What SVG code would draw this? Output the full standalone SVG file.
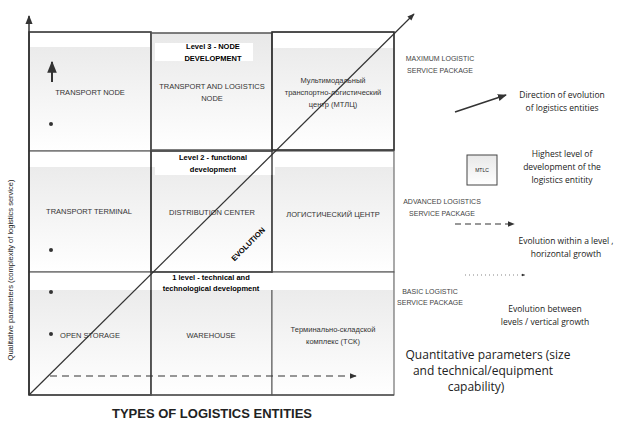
<svg xmlns="http://www.w3.org/2000/svg" width="619" height="428" viewBox="0 0 619 428">
<style>
text{font-family:"Liberation Sans",Arial,sans-serif;fill:#222}
.c{font-size:7.5px;text-anchor:middle;fill:#333}
.b{font-size:7.5px;text-anchor:middle;font-weight:bold;fill:#000}
.s{font-size:7px;text-anchor:middle;fill:#444}
.l{font-family:"Open Sans","Liberation Sans",sans-serif;font-size:8.5px;text-anchor:middle;fill:#222}
.q{font-family:"Open Sans","Liberation Sans",sans-serif;font-size:12px;fill:#222;text-anchor:middle}
.cell{fill:url(#g);stroke:#555;stroke-width:1}
</style>
<defs>
<linearGradient id="g" x1="0" y1="0" x2="0" y2="1"><stop offset="0" stop-color="#e8e8e8"/><stop offset="1" stop-color="#ffffff"/></linearGradient>
<marker id="a" viewBox="0 0 10 10" refX="9" refY="5" markerWidth="6" markerHeight="6" orient="auto"><path d="M0,1 L10,5 L0,9 Z" fill="#333"/></marker>
</defs>
<g id="grid">
<rect class="cell" x="29" y="32" width="122" height="119"/>
<rect class="cell" x="29" y="151" width="122" height="121"/>
<rect class="cell" x="29" y="272" width="122" height="123"/>
<rect class="cell" x="151" y="33" width="121" height="117"/>
<rect class="cell" x="151" y="151" width="121" height="121"/>
<rect class="cell" x="151" y="272" width="121" height="123"/>
<rect class="cell" x="272" y="32" width="122" height="118"/>
<rect class="cell" x="272" y="151" width="122" height="121"/>
<rect class="cell" x="272" y="272" width="122" height="123"/>
<rect x="30" y="33" width="120" height="14" fill="#fff"/>
<rect x="273" y="33" width="120" height="15" fill="#fff"/>
<rect x="155" y="43" width="98" height="18" fill="#fff"/>
<rect x="29" y="152" width="364" height="15" fill="#fff"/>
<rect x="155" y="167" width="120" height="8" fill="#fff"/>
<rect x="29" y="273" width="364" height="17" fill="#fff"/>
<rect x="29" y="32" width="122" height="363" fill="none" stroke="#444" stroke-width="1.5"/>
<rect x="151" y="151" width="121" height="121" fill="none" stroke="#444" stroke-width="1.5"/>
<rect x="151" y="33" width="121" height="117" fill="none" stroke="#555" stroke-width="1"/>
<rect x="272" y="32" width="122" height="118" fill="none" stroke="#333" stroke-width="1.5"/>
<line x1="29" y1="395" x2="394" y2="395" stroke="#555" stroke-width="1.5"/>
</g>
<g id="connectors" stroke="#333" fill="none">
<line x1="29" y1="395" x2="29" y2="16" stroke-width="1.5" marker-end="url(#a)"/>
<line x1="52" y1="82" x2="52" y2="62" stroke-width="2" marker-end="url(#a)"/>
<line x1="29" y1="395" x2="414" y2="14" stroke-width="1.2" marker-end="url(#a)"/>
<line x1="50" y1="376" x2="356" y2="376" stroke-width="1.2" stroke-dasharray="7,5" marker-end="url(#a)"/>
<line x1="455" y1="112" x2="506" y2="95" stroke-width="1.5" marker-end="url(#a)"/>
<line x1="455" y1="224" x2="514" y2="224" stroke-width="1.2" stroke-dasharray="6,4" marker-end="url(#a)"/>
<line x1="465" y1="275" x2="525" y2="275" stroke-width="0.6" stroke-dasharray="1,3" marker-end="url(#a)"/>
</g>
<g id="dots" fill="#333">
<circle cx="51" cy="124" r="2"/><circle cx="51" cy="250" r="2"/><circle cx="51" cy="292" r="2"/><circle cx="51" cy="334" r="2"/>
</g>
<g id="cells-text">
<text class="b" x="213" y="49">Level 3 - NODE</text>
<text class="b" x="213" y="61">DEVELOPMENT</text>
<text class="c" x="90" y="95">TRANSPORT NODE</text>
<text class="c" x="212" y="89">TRANSPORT AND LOGISTICS</text>
<text class="c" x="212" y="101">NODE</text>
<text class="c" x="333" y="83">Мультимодальный</text>
<text class="c" x="333" y="95">транспортно-логистический</text>
<text class="c" x="333" y="107">центр (МТЛЦ)</text>
<text class="b" x="213" y="160">Level 2 - functional</text>
<text class="b" x="213" y="172">development</text>
<text class="c" x="89" y="214">TRANSPORT TERMINAL</text>
<text class="c" x="212" y="215">DISTRIBUTION CENTER</text>
<text class="c" x="333" y="217">ЛОГИСТИЧЕСКИЙ ЦЕНТР</text>
<text class="b" x="0" y="0" transform="translate(250,246) rotate(-45)">EVOLUTION</text>
<text class="b" x="211" y="280">1 level - technical and</text>
<text class="b" x="211" y="291">technological development</text>
<text class="c" x="90" y="338">OPEN STORAGE</text>
<text class="c" x="211" y="338">WAREHOUSE</text>
<text class="c" x="333" y="332">Терминально-складской</text>
<text class="c" x="333" y="344">комплекс (ТСК)</text>
</g>
<g id="labels">
<text x="13" y="270" font-size="7.5" fill="#444" text-anchor="middle" transform="rotate(-90 13 270)">Qualitative parameters (complexity of logistics service)</text>
<text class="s" x="440" y="61">MAXIMUM LOGISTIC</text>
<text class="s" x="440" y="73">SERVICE PACKAGE</text>
<text class="s" x="442" y="204">ADVANCED LOGISTICS</text>
<text class="s" x="442" y="216">SERVICE PACKAGE</text>
<text class="s" x="430" y="294">BASIC LOGISTIC</text>
<text class="s" x="430" y="305">SERVICE PACKAGE</text>
<text class="l" x="562" y="98">Direction of evolution</text>
<text class="l" x="562" y="111">of logistics entities</text>
<text class="l" x="562" y="157">Highest level of</text>
<text class="l" x="562" y="170">development of the</text>
<text class="l" x="562" y="183">logistics entitity</text>
<text class="l" x="566" y="244">Evolution within a level ,</text>
<text class="l" x="566" y="257">horizontal growth</text>
<text class="l" x="545" y="312">Evolution between</text>
<text class="l" x="545" y="325">levels / vertical growth</text>
<text class="q" x="488" y="359">Quantitative parameters (size</text>
<text class="q" x="483" y="375">and technical/equipment</text>
<text class="q" x="476" y="391">capability)</text>
<text x="212" y="418" font-size="13" font-weight="bold" fill="#111" text-anchor="middle">TYPES OF LOGISTICS ENTITIES</text>
</g>
<g id="legend-box">
<rect x="467" y="155" width="30" height="30" fill="url(#g)" stroke="#444" stroke-width="1"/>
<text x="482" y="172" font-size="5" text-anchor="middle" fill="#333">MTLC</text>
</g>
</svg>
